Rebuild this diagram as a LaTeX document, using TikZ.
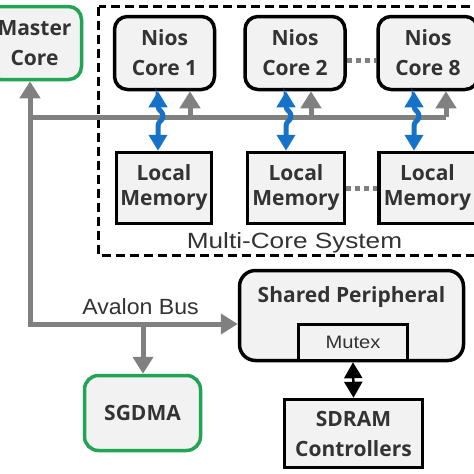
\documentclass[tikz,border=0pt]{standalone}
\usepackage{fontspec}
\setmainfont{Open Sans}
\newfontfamily\regf{Liberation Sans}
\usetikzlibrary{arrows.meta}
\definecolor{txt}{HTML}{333333}
\definecolor{boxfill}{HTML}{F2F2F2}
\definecolor{grn}{HTML}{21A453}
\definecolor{busc}{HTML}{808080}
\definecolor{blu}{HTML}{1572C6}
\begin{document}
\begin{tikzpicture}[x=1pt,y=-1pt,
 box/.style={draw=black, line width=3.5pt, fill=boxfill, text=txt,
   font=\bfseries\fontsize{21}{30}\selectfont, align=center, inner sep=0pt},
 rbox/.style={box, rounded corners=13pt},
 gbox/.style={rbox, draw=grn},
 busline/.style={draw=busc, line width=5pt},
 busarrow/.style={busline, -{Triangle[width=20pt,length=17pt]}},
 bluarrow/.style={draw=blu, line width=5pt,
   {Triangle[width=18pt,length=16pt]}-{Triangle[width=18pt,length=16pt]}},
 blkarrow/.style={draw=black, line width=2.5pt,
   {Triangle[width=18pt,length=16pt]}-{Triangle[width=18pt,length=16pt]}},
 dotline/.style={draw=busc, line width=5pt, dash pattern=on 5pt off 4pt},
 reg/.style={text=txt, inner sep=0pt}
]
\useasboundingbox (0,0) rectangle (474,474);
\clip (0,0) rectangle (474,474);
\fill[white] (0,0) rectangle (474,474);

% dashed multi-core frame
\draw[line width=3pt, dash pattern=on 9pt off 5pt] (98.5,6.5) rectangle (490,255.5);

% boxes
\node[gbox, minimum width=94pt, minimum height=73pt] (master) at (34.5,43) {Master\\Core};
\node[rbox, minimum width=100pt, minimum height=73pt] (n1) at (164.5,53) {Nios\\Core 1};
\node[rbox, minimum width=100pt, minimum height=73pt] (n2) at (295,53) {Nios\\Core 2};
\node[rbox, minimum width=100pt, minimum height=73pt] (n8) at (428,53) {Nios\\Core 8};
\node[box, minimum width=95pt, minimum height=71pt, font=\bfseries\fontsize{21}{25}\selectfont] (m1) at (164,188) {Local\\Memory};
\node[box, minimum width=97pt, minimum height=71pt, font=\bfseries\fontsize{21}{25}\selectfont] (m2) at (296,188) {Local\\Memory};
\node[box, minimum width=97pt, minimum height=71pt, font=\bfseries\fontsize{21}{25}\selectfont] (m8) at (427.5,188) {Local\\Memory};
\node[rbox, rounded corners=16pt, minimum width=224pt, minimum height=90pt] (shared) at (351.5,315.5) {};
\node[reg, anchor=base, font=\bfseries\fontsize{21}{25}\selectfont] (sharedlbl) at (351.5,302) {Shared Peripheral};
\node[box, minimum width=109pt, minimum height=36pt, font=\regf\fontsize{18}{22}\selectfont] (mutex) at (353,342.5) {\scalebox{1.12}[1]{Mutex}};
\node[box, minimum width=138pt, minimum height=68pt] (sdram) at (353.5,433.5) {SDRAM\\Controllers};
\node[gbox, rounded corners=14pt, minimum width=116pt, minimum height=75pt] (sgdma) at (142.5,413) {SGDMA};

% labels
\node[reg, anchor=base, font=\regf\fontsize{22}{26}\selectfont] (mcs) at (294.5,248) {\scalebox{1.19}[1]{Multi-Core System}};
\node[reg, anchor=base, font=\regf\fontsize{22}{26}\selectfont] (avalon) at (140.5,314) {\scalebox{1.05}[1]{Avalon Bus}};

% dots between cores / memories
\draw[dotline] ([yshift=-7pt]n2.east) -- ([yshift=-7pt]n8.west);
\draw[dotline] (m2.east) -- (m8.west);

% Avalon bus
\coordinate (bl) at (30,324);
\coordinate (tl) at (30,117);
\coordinate (tr) at (446,117);
\coordinate (u1) at (190,117);
\coordinate (u2) at (311,117);
\coordinate (br) at (143,324);
\draw[busline] (tl) -- (tr);
\draw[busarrow] (bl) -- (bl |- master.south);
\draw[busarrow] (tr) -- (tr |- n8.south);
\draw[busarrow] (u1) -- (u1 |- n1.south);
\draw[busarrow] (u2) -- (u2 |- n2.south);
\draw[busarrow] ([xshift=-2.5pt]bl) -- (bl -| shared.west);
\draw[busarrow] (br) -- (br |- sgdma.north);

% blue core-memory links with hop over the bus
\coordinate (b1) at (158,0);
\coordinate (b2) at (286,0);
\coordinate (b8) at (414,0);
\draw[bluarrow] (b1 |- n1.south) -- (158,106) .. controls (158,111) and (163,111) .. (163,116)
  .. controls (163,121) and (158,121) .. (158,126) -- (b1 |- m1.north);
\draw[bluarrow] (b2 |- n2.south) -- (286,106) .. controls (286,111) and (291,111) .. (291,116)
  .. controls (291,121) and (286,121) .. (286,126) -- (b2 |- m2.north);
\draw[bluarrow] (b8 |- n8.south) -- (414,106) .. controls (414,111) and (419,111) .. (419,116)
  .. controls (419,121) and (414,121) .. (414,126) -- (b8 |- m8.north);

% mutex - sdram
\draw[blkarrow] (mutex.south) -- (sdram.north);
\end{tikzpicture}
\end{document}
